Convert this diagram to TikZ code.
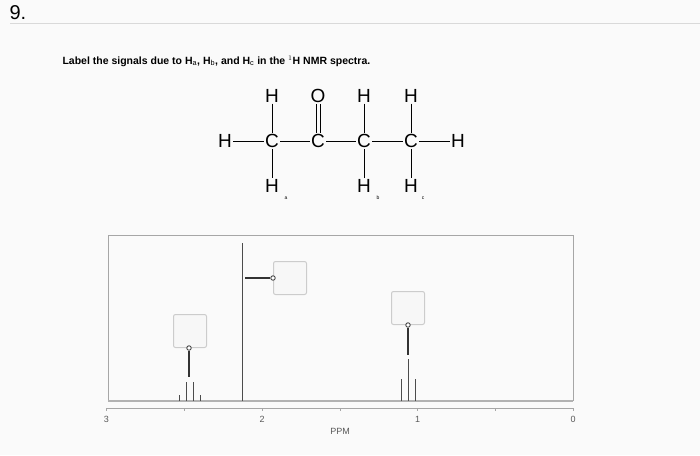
\documentclass[tikz,border=0pt]{standalone}
\usepackage{fontspec}
\setmainfont{Liberation Sans}
\begin{document}
\begin{tikzpicture}[x=1pt,y=-1pt,
  atom/.style={font=\fontsize{19}{19}\selectfont,inner sep=1pt},
  bond/.style={line width=1pt},
  lbox/.style={draw=gray!40,fill=gray!6,rounded corners=2pt,minimum width=33pt,minimum height=33pt,line width=1pt},
  pin/.style={circle,draw=black!80,fill=white,inner sep=0pt,minimum size=4.5pt,line width=0.8pt},
  pk/.style={black!70,line width=0.8pt},
  lead/.style={black!80,line width=1.6pt}]
\useasboundingbox[fill=gray!4] (0,0) rectangle (700,455);
\node[anchor=west,font=\fontsize{20}{20}\selectfont] (num) at (6,13) {9.};
\draw[gray!30] (10,23) -- (700,23);
\node[anchor=west,font=\bfseries\fontsize{10.5}{12}\selectfont] (q) at (59,61)
 {Label the signals due to H$_\mathrm{a}$, H$_\mathrm{b}$, and H$_\mathrm{c}$ in the $^1$H NMR spectra.};
% molecule
\node[atom] (c1) at (272,141) {C};
\node[atom] (c2) at (318,141) {C};
\node[atom] (c3) at (364,141) {C};
\node[atom] (c4) at (411,141) {C};
\node[atom] (hl) at (225,141) {H};
\node[atom] (hr) at (458,141) {H};
\node[atom] (h1) at (272,96) {H};
\node[atom] (o) at (318,96) {O};
\node[atom] (h3) at (364,96) {H};
\node[atom] (h4) at (411,96) {H};
\node[atom] (ha) at (272,186) {H};
\node[atom] (hb) at (364,186) {H};
\node[atom] (hc) at (411,186) {H};
\node[font=\tiny] (sa) at (286,198) {a};
\node[font=\tiny] (sb) at (378,198) {b};
\node[font=\tiny] (sc) at (423,198) {c};
\foreach \a/\b in {hl/c1,c1/c2,c2/c3,c3/c4,c4/hr}\draw[bond] (\a) -- (\b);
\foreach \a/\b in {h1/c1,h3/c3,h4/c4,c1/ha,c3/hb,c4/hc}\draw[bond] (\a) -- (\b);
\draw[bond] ([xshift=-2pt]o.south) -- ([xshift=-2pt]c2.north);
\draw[bond] ([xshift=2pt]o.south) -- ([xshift=2pt]c2.north);
% spectrum frame
\draw[gray!70,line width=0.8pt] (108,401) -- (108,235) -- (573,235) -- (573,401);
\draw[gray!60,line width=1.2pt] (108,401) -- (573,401);
\draw[gray!70,line width=0.8pt] (106,408) -- (573,408);
\foreach \p in {0,0.5,...,3}\draw[gray!70] ({573-\p*155.5},408) -- ({573-\p*155.5},411);
\foreach \p in {0,1,2,3}\node[font=\small,gray!70!black] (t\p) at ({573-\p*155.5},419) {\p};
\node[font=\small,gray!70!black] (ppm) at (340,431) {PPM};
% peaks
\foreach \x/\y in {179/395,186/382,193/382,200/395}\draw[pk] (\x,401) -- (\x,\y);
\draw[pk] (242,401) -- (242,243);
\foreach \x/\y in {401/379,408/359,415/379}\draw[pk] (\x,401) -- (\x,\y);
% label boxes
\node[lbox] (b1) at (190,331) {};
\node[lbox] (b2) at (290,278) {};
\node[lbox] (b3) at (408,308) {};
\coordinate (e1) at (189,377);
\coordinate (e2) at (245,278);
\coordinate (e3) at (408,355);
\node[pin] (p1) at (189,348) {};
\node[pin] (p2) at (273,278) {};
\node[pin] (p3) at (408,325) {};
\draw[lead] (p1) -- (e1);
\draw[lead] (p2) -- (e2);
\draw[lead] (p3) -- (e3);
\end{tikzpicture}
\end{document}
